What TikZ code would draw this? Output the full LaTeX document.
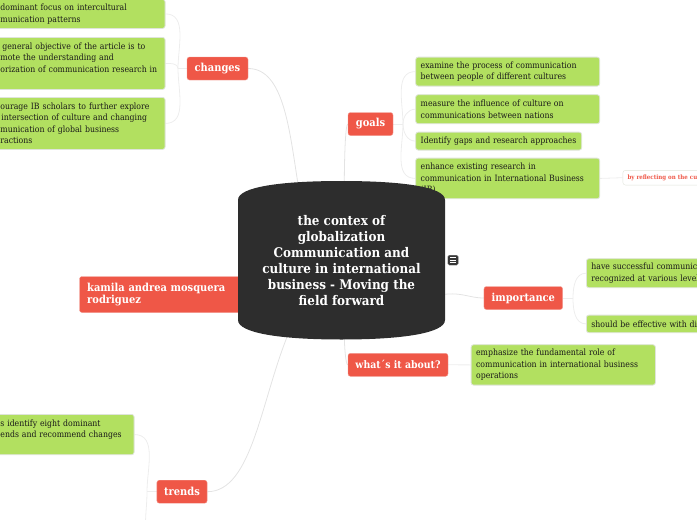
\documentclass[tikz,border=0pt]{standalone}
\usepackage{fontspec}
\usetikzlibrary{calc,backgrounds}
\newfontfamily\bodyfont{DejaVu Serif Condensed}
\newfontfamily\headfont{DejaVu Serif Condensed Bold}
\definecolor{topicred}{HTML}{EF5747}
\definecolor{topicline}{HTML}{F29A90}
\definecolor{leafgreen}{HTML}{B2E060}
\definecolor{leafline}{HTML}{DFE4DA}
\definecolor{rootdark}{HTML}{2D2D2D}
\definecolor{linkgray}{HTML}{E3E3E3}
\definecolor{twiggray}{HTML}{EDEDED}
\tikzset{
  topic/.style={draw=topicline, fill=topicred, text=white, rounded corners=2.5pt,
    font=\headfont\fontsize{11}{12.6}\selectfont, inner sep=0pt, minimum height=23pt},
  leaf/.style={draw=leafline, fill=leafgreen, text=black!90, rounded corners=2.5pt, line width=.8pt,
    font=\bodyfont\fontsize{8.65}{11.5}\selectfont, align=left, anchor=north west,
    inner xsep=5pt, inner ysep=0pt},
  link/.style={draw=linkgray, line width=.8pt},
  twig/.style={draw=twiggray, line width=.8pt},
  rootlink/.style={link, shorten >=-8pt},
}
\begin{document}
\begin{tikzpicture}[x=1pt,y=-1pt]
  \useasboundingbox (0,0) rectangle (697,520);
  % left branch, cut by the page edge
  \node[leaf, text width=159.7pt, minimum height=29pt] (focus) at (-5,-1)
    {dominant focus on intercultural\\munication patterns};%
  \node[leaf, text width=159.7pt, minimum height=52pt] (objective) at (-5,37)
    {\hspace*{2pt}general objective of the article is to\\mote the understanding and\\orization of communication research in\\\mbox{}};%
  \node[leaf, text width=159.7pt, minimum height=52pt] (encourage) at (-5,97)
    {ourage IB scholars to further explore\\\hspace*{1pt}intersection of culture and changing\\munication of global business\\ractions};%
  \node[topic, minimum width=61pt] (changes) at (217.5,68.5) {changes};%
  \coordinate (changesfork) at (178,68.5);%
  % goals
  \node[topic, minimum width=45pt] (goals) at (370.5,124) {goals};%
  \coordinate (goalsfork) at (403,124);%
  \node[leaf, text width=174pt, minimum height=29pt] (examine) at (415.3,56.7)
    {examine the process of communication\\between people of different cultures};%
  \node[leaf, text width=174pt, minimum height=29pt] (measure) at (415.3,94.3)
    {measure the influence of culture on\\communications between nations};%
  \node[leaf, text width=156pt, minimum height=18pt] (gaps) at (415.3,131.7)
    {Identify gaps and research approaches};%
  \node[leaf, text width=174pt, minimum height=40.6pt] (enhance) at (415.3,157.7)
    {enhance existing research in\\communication in International Business\\(IB)};%
  \node[draw=leafline, fill=white, text=topicred, rounded corners=2.5pt, anchor=west,
    font=\headfont\fontsize{6.1}{7}\selectfont, inner xsep=4.6pt, inner ysep=0pt,
    minimum height=14.7pt, text width=90pt] (reflecting) at (622.7,177.7)
    {by reflecting on the cu};%
  % importance
  \node[topic, minimum width=78.7pt] (importance) at (523.3,298) {importance};%
  \coordinate (importancefork) at (573,298);%
  \node[leaf, text width=130pt, minimum height=29pt] (successful) at (586,258.3)
    {have successful communic\\recognized at various level};%
  \node[leaf, text width=130pt, minimum height=17.6pt] (effective) at (586,314.7)
    {should be effective with dif};%
  % what's it about
  \node[topic, minimum width=100pt, font=\headfont\fontsize{10.4}{12.6}\selectfont] (about) at (398,364.8) {what´s it about?};%
  \node[leaf, text width=174.3pt, minimum height=40.4pt] (emphasize) at (470.7,344.3)
    {emphasize the fundamental role of\\communication in international business\\operations};%
  % trends
  \node[topic, minimum width=50.3pt] (trends) at (182,491.7) {trends};%
  \coordinate (trendsfork) at (147,491.7);%
  \coordinate (trendsnext) at (145.5,525);%
  \node[leaf, text width=128.7pt, minimum height=40.3pt] (identify) at (-5,414)
    {s identify eight dominant\\ends and recommend changes\\\mbox{}};%
  % name tag runs under the root
  \node[topic, anchor=north west, align=left, text width=170pt, inner xsep=7.7pt, minimum height=36pt] (kamila) at (79.3,276.3)
    {kamila andrea mosquera\\rodriguez};%
  % root
  \fill[rootdark] (238,200) .. controls (238,187) and (280,181) .. (341.5,181)
    .. controls (403,181) and (445,187) .. (445,200) -- (445,320)
    .. controls (445,333) and (403,339.5) .. (341.5,339.5)
    .. controls (280,339.5) and (238,333) .. (238,320) -- cycle;%
  \node[text=white, font=\headfont\fontsize{13.3}{16}\selectfont, align=center,
    minimum width=207pt, minimum height=158.5pt, inner sep=0pt] (root) at (341.5,260.2)
    {the contex of\\globalization\\Communication and\\culture in international\\business - Moving the\\field forward};%
  \node[fill=rootdark!95, draw=black!35, rounded corners=1.5pt, minimum width=10.5pt,
    minimum height=10pt, inner sep=0pt] (menu) at (453,260.2) {};%
  \foreach \dy in {-2.4,0,2.4}
    \draw[white, line width=.8pt] ($(menu)+(-3,\dy)$) -- ($(menu)+(3,\dy)$);%
  \begin{pgfonlayer}{background}
    \path[rootlink] (changes.east) .. controls +(36,0) and +(-8,-50) .. (root.119);%
    \path[rootlink] (goals.west) .. controls +(-2.5,0) and +(0,-20) .. (root.88);%
    \path[rootlink] (importance.west) .. controls +(-16,0) and +(16,-3) .. (root.-18);%
    \path[rootlink] (about.west) .. controls +(-2,0) and +(0,8) .. (root.-88);%
    \path[rootlink] (trends.east) .. controls +(45,0) and +(-25,60) .. (root.235);%
    \path[twig] (changes.west) -- (changesfork);%
    \path[twig] (changesfork) edge[out=90,in=0] (focus.east)
                              edge[out=90,in=0] (objective.east)
                              edge[out=-90,in=0] (encourage.east);%
    \path[twig] (goals.east) -- (goalsfork);%
    \path[twig] (goalsfork) edge[out=90,in=180] (examine.west)
                            edge[out=90,in=180] (measure.west)
                            edge[out=-90,in=180] (gaps.west)
                            edge[out=-90,in=180] (enhance.west);%
    \path[twig] (enhance.east) -- (reflecting.west);%
    \path[twig] (importance.east) -- (importancefork);%
    \path[twig] (importancefork) edge[out=90,in=180] (successful.west)
                                 edge[out=-90,in=180] (effective.west);%
    \path[twig] (about.east) -- (emphasize.west);%
    \path[twig] (trends.west) -- (trendsfork);%
    \path[twig] (trendsfork) edge[out=90,in=0] (identify.east)
                             edge[out=-90,in=90] (trendsnext);%
  \end{pgfonlayer}
\end{tikzpicture}
\end{document}
